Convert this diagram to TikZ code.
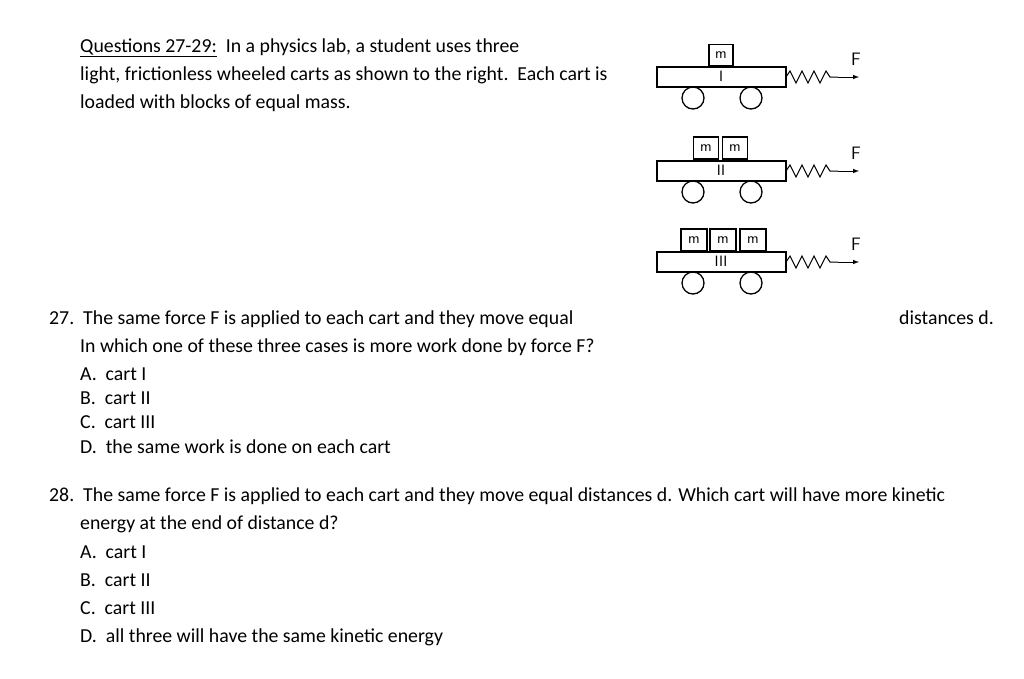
\documentclass[tikz,border=0pt]{standalone}
\usepackage{fontspec}
\setmainfont{Carlito}
\begin{document}
\begin{tikzpicture}[x=1pt,y=-1pt,
 txt/.style={anchor=base west,inner sep=0pt,font=\fontsize{19.8}{22}\selectfont},
 lbl/.style={inner sep=0pt,font=\fontsize{15}{17}\selectfont\sffamily},
 body/.style={draw,line width=1.3pt},
 wheel/.style={draw,line width=1.3pt,circle,minimum size=22pt,inner sep=0pt}]
\useasboundingbox (0,0) rectangle (1024,678);
% text
\node[txt] (q) at (80,52) {\underline{Questions 27-29:}\ \ In a physics lab, a student uses three};
\node[txt] (q2) at (80,80) {light, frictionless wheeled carts as shown to the right.\ \ Each cart is};
\node[txt] (q3) at (80,108) {loaded with blocks of equal mass.};
\node[txt] (a0) at (49,324) {27.\ \ The same force F is applied to each cart and they move equal};
\node[txt] (a0b) at (899,324) {distances d.};
\node[txt] (a1) at (80,352) {In which one of these three cases is more work done by force F?};
\node[txt] (a2) at (80,380) {A.\ \ cart I};
\node[txt] (a3) at (80,404) {B.\ \ cart II};
\node[txt] (a4) at (80,428) {C.\ \ cart III};
\node[txt] (a5) at (80,453) {D.\ \ the same work is done on each cart};
\node[txt] (b0) at (49,501) {28.\ \ The same force F is applied to each cart and they move equal distances d. Which cart will have more kinetic};
\node[txt] (b1) at (80,529) {energy at the end of distance d?};
\node[txt] (b2) at (80,558) {A.\ \ cart I};
\node[txt] (b3) at (80,586) {B.\ \ cart II};
\node[txt] (b4) at (80,614) {C.\ \ cart III};
\node[txt] (b5) at (80,642) {D.\ \ all three will have the same kinetic energy};
% carts
\foreach \y/\n/\lab in {67/1/I,161/2/II,252/3/III}{
  \draw[body] (657,\y) rectangle (786,\y+20);
  \node[lbl] (c\n) at (721,\y+9) {\lab};
  \node[wheel] (w\n a) at (693,\y+31) {};
  \node[wheel] (w\n b) at (751,\y+31) {};
  \draw[line width=1pt] (786,\y+10) -- (790,\y+4) -- (796,\y+16) -- (802,\y+4) -- (808,\y+16) -- (814,\y+4) -- (820,\y+16) -- (826,\y+4) -- (830,\y+10) -- (838,\y+10);
  \coordinate (s\n) at (838,\y+10);
  \coordinate (e\n) at (859,\y+10);
  \draw[line width=1pt,-latex] (s\n) -- (e\n);
  \node[lbl,font=\fontsize{18}{20}\selectfont\sffamily] (f\n) at (856,\y-8) {F};
}
\foreach \x [count=\i] in {721}{\node[body,lbl,minimum width=24pt,minimum height=21pt] (m1\i) at (\x,55) {m};}
\foreach \x [count=\i] in {706,735}{\node[body,lbl,minimum width=25pt,minimum height=22pt] (m2\i) at (\x,148) {m};}
\foreach \x [count=\i] in {694,723,753}{\node[body,lbl,minimum width=26pt,minimum height=22pt] (m3\i) at (\x,240) {m};}
\end{tikzpicture}
\end{document}
